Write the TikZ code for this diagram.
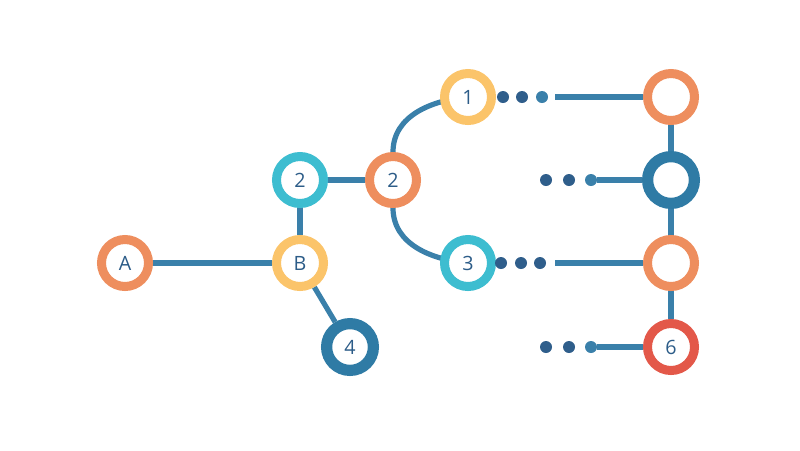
\documentclass[tikz,border=0pt]{standalone}
\usepackage{fontspec}
\setmainfont{Open Sans}
\usetikzlibrary{backgrounds}
\definecolor{ringorange}{HTML}{EE8E5E}
\definecolor{ringyellow}{HTML}{FBC46A}
\definecolor{ringcyan}{HTML}{3DBDD0}
\definecolor{ringblue}{HTML}{2F7BA5}
\definecolor{ringred}{HTML}{E35849}
\definecolor{linkblue}{HTML}{3A80AA}
\definecolor{dotblue}{HTML}{2F5E8B}
\definecolor{labelblue}{HTML}{2C5C88}
\begin{document}
\begin{tikzpicture}[x=0.025cm, y=-0.025cm,
	main/.style = {circle, draw, fill=white, line width=0.225cm, minimum size=1.175cm, inner sep=0pt, text=labelblue, font=\fontsize{14}{14}\selectfont},
	thick ring/.style = {line width=0.28cm, minimum size=1.17cm},
	link/.style = {draw=linkblue, line width=0.13cm},
	dot/.style = {circle, fill=dotblue, minimum size=0.3cm, inner sep=0pt}]
	\useasboundingbox (0,0) rectangle (800,450);
	% Pisteet
	\node[main, draw=ringorange] (a) at (125,263) {A};
	\node[main, draw=ringyellow] (b) at (300,263) {B};
	\node[main, draw=ringcyan] (c2) at (300,180) {2};
	\node[main, draw=ringorange] (o2) at (393,180) {2};
	\node[main, draw=ringblue, thick ring] (n4) at (350,347) {4};
	\node[main, draw=ringyellow] (n1) at (468,97) {1};
	\node[main, draw=ringcyan] (n3) at (468,263) {3};
	\node[main, draw=ringorange] (r1) at (671,97) {};
	\node[main, draw=ringblue, thick ring] (r2) at (671,180) {};
	\node[main, draw=ringorange] (r3) at (671,263) {};
	\node[main, draw=ringred] (r4) at (671,347) {6};
	% Pisteviivat
	\node[dot] (d11) at (503,97) {};
	\node[dot] (d12) at (522,97) {};
	\node[dot, fill=linkblue] (d13) at (542,97) {};
	\coordinate (e1) at (555,97);
	\node[dot] (d21) at (546,180) {};
	\node[dot] (d22) at (569,180) {};
	\node[dot, fill=linkblue] (d23) at (591,180) {};
	\node[dot] (d31) at (501,263) {};
	\node[dot] (d32) at (521,263) {};
	\node[dot] (d33) at (540,263) {};
	\coordinate (e3) at (555,263);
	\node[dot] (d41) at (546,347) {};
	\node[dot] (d42) at (569,347) {};
	\node[dot, fill=linkblue] (d43) at (591,347) {};
	% Janat
	\begin{pgfonlayer}{background}
		\draw[link] (a) -- (b);			% AB
		\draw[link] (b) -- (c2);		% B2
		\draw[link] (b) -- (n4);		% B4
		\draw[link] (c2) -- (o2);		% 22
		\draw[link] (o2.center) -- ++(0,-28) to[out=90, in=185] (n1.center);	% 21
		\draw[link] (o2.center) -- ++(0,28) to[out=-90, in=175] (n3.center);	% 23
		\draw[link] (e1) -- (r1);		% 1
		\draw[link] (d23) -- (r2);		% 2
		\draw[link] (e3) -- (r3);		% 3
		\draw[link] (d43) -- (r4);		% 4
		\draw[link] (r1) -- (r4);		% oikea
	\end{pgfonlayer}
\end{tikzpicture}
\end{document}
